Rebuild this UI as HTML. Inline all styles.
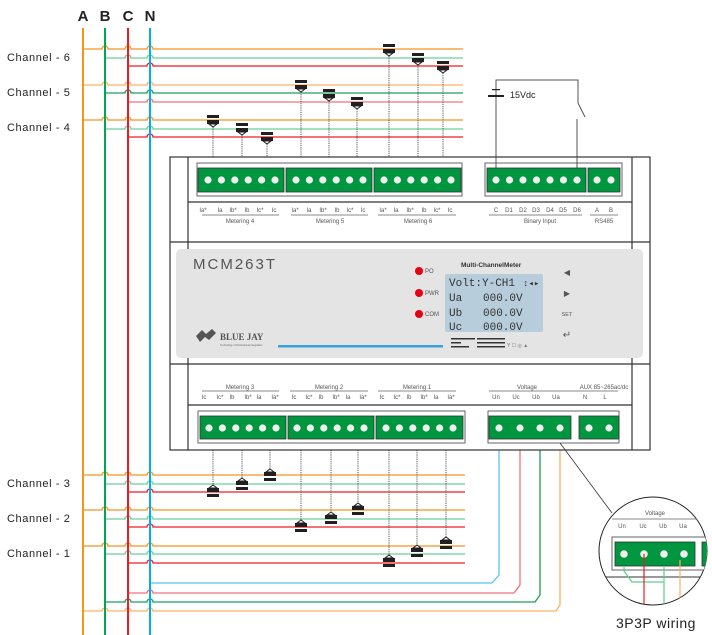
<!DOCTYPE html>
<html><head><meta charset="utf-8"><style>
html,body{margin:0;padding:0;background:#fff;}
svg{display:block;font-family:"Liberation Sans",sans-serif;}
.t{font-size:6px;fill:#555;}
.ch{font-size:11px;fill:#222;letter-spacing:0.6px;}
</style></head><body>
<svg width="712" height="635" viewBox="0 0 712 635" xmlns="http://www.w3.org/2000/svg">
<defs>
<g id="sd"><rect x="-6" y="0" width="12" height="3" fill="#231f20"/><rect x="-6" y="5" width="12" height="4" fill="#231f20"/><path d="M-4 9 L4 9 L0 12 Z" fill="#fff" stroke="#231f20" stroke-width="1"/></g>
<g id="su"><path d="M-4 3 L4 3 L0 0 Z" fill="#fff" stroke="#231f20" stroke-width="1"/><rect x="-6" y="3" width="12" height="4" fill="#231f20"/><rect x="-6" y="9" width="12" height="3" fill="#231f20"/></g>
<g id="c6"><circle cx="0" cy="0" r="3.6" fill="#eee"/><circle cx="13.4" cy="0" r="3.6" fill="#eee"/><circle cx="26.8" cy="0" r="3.6" fill="#eee"/><circle cx="40.2" cy="0" r="3.6" fill="#eee"/><circle cx="53.6" cy="0" r="3.6" fill="#eee"/><circle cx="67" cy="0" r="3.6" fill="#eee"/></g>
</defs>

<g font-size="15" font-weight="bold" fill="#222" text-anchor="middle">
<text x="83" y="21">A</text><text x="105" y="21">B</text><text x="128" y="21">C</text><text x="150" y="21">N</text>
</g>

<text class="ch" x="7" y="61">Channel - 6</text>
<text class="ch" x="7" y="96">Channel - 5</text>
<text class="ch" x="7" y="131">Channel - 4</text>
<text class="ch" x="7" y="487">Channel - 3</text>
<text class="ch" x="7" y="522">Channel - 2</text>
<text class="ch" x="7" y="557">Channel - 1</text>

<g fill="none" stroke-width="1.3">
<path d="M83 49H102a3 3 0 0 1 6 0H125a3 3 0 0 1 6 0H147a3 3 0 0 1 6 0H463" stroke="#f7941d"/>
<path d="M105 58H125a3 3 0 0 1 6 0H147a3 3 0 0 1 6 0H463" stroke="#6ccf9a"/>
<path d="M128 66H147a3 3 0 0 1 6 0H463" stroke="#ed1c24"/>
<path d="M83 85H102a3 3 0 0 1 6 0H125a3 3 0 0 1 6 0H147a3 3 0 0 1 6 0H463" stroke="#fbb260"/>
<path d="M105 93H125a3 3 0 0 1 6 0H147a3 3 0 0 1 6 0H463" stroke="#1aa05a"/>
<path d="M128 102H147a3 3 0 0 1 6 0H463" stroke="#f0707a"/>
<path d="M83 120H102a3 3 0 0 1 6 0H125a3 3 0 0 1 6 0H147a3 3 0 0 1 6 0H463" stroke="#f7941d"/>
<path d="M105 129H125a3 3 0 0 1 6 0H147a3 3 0 0 1 6 0H463" stroke="#6ccf9a"/>
<path d="M128 137H147a3 3 0 0 1 6 0H463" stroke="#ed1c24"/>
<path d="M83 475H102a3 3 0 0 1 6 0H125a3 3 0 0 1 6 0H147a3 3 0 0 1 6 0H465" stroke="#f7941d"/>
<path d="M105 484H125a3 3 0 0 1 6 0H147a3 3 0 0 1 6 0H465" stroke="#6ccf9a"/>
<path d="M128 492H147a3 3 0 0 1 6 0H465" stroke="#ed1c24"/>
<path d="M83 510H102a3 3 0 0 1 6 0H125a3 3 0 0 1 6 0H147a3 3 0 0 1 6 0H465" stroke="#f7941d"/>
<path d="M105 519H125a3 3 0 0 1 6 0H147a3 3 0 0 1 6 0H465" stroke="#6ccf9a"/>
<path d="M128 527H147a3 3 0 0 1 6 0H465" stroke="#ed1c24"/>
<path d="M83 546H102a3 3 0 0 1 6 0H125a3 3 0 0 1 6 0H147a3 3 0 0 1 6 0H465" stroke="#f7941d"/>
<path d="M105 554H125a3 3 0 0 1 6 0H147a3 3 0 0 1 6 0H465" stroke="#6ccf9a"/>
<path d="M128 563H147a3 3 0 0 1 6 0H465" stroke="#ed1c24"/>
<path d="M150 583H492L499 575V439" stroke="#5bc3f0"/>
<path d="M128 593H147a3 3 0 0 1 6 0H514L520 585V439" stroke="#f0707a"/>
<path d="M105 602H125a3 3 0 0 1 6 0H147a3 3 0 0 1 6 0H535L540 595V439" stroke="#1aa05a"/>
<path d="M83 611H102a3 3 0 0 1 6 0H125a3 3 0 0 1 6 0H147a3 3 0 0 1 6 0H556L560 605V439" stroke="#fbb260"/>
</g>
<line x1="83" y1="28" x2="83" y2="635" stroke="#f7941d" stroke-width="2"/>
<line x1="105" y1="28" x2="105" y2="635" stroke="#00a651" stroke-width="2"/>
<line x1="128" y1="28" x2="128" y2="635" stroke="#ed1c24" stroke-width="2"/>
<line x1="150" y1="28" x2="150" y2="635" stroke="#00aeef" stroke-width="2"/>

<g stroke="#555" stroke-width="1" stroke-dasharray="1.2 1">
<line x1="389" y1="56" x2="389" y2="168"/><line x1="418" y1="65" x2="418" y2="168"/><line x1="443" y1="73" x2="443" y2="168"/>
<line x1="301" y1="92" x2="301" y2="168"/><line x1="329" y1="101" x2="329" y2="168"/><line x1="357" y1="109" x2="357" y2="168"/>
<line x1="213" y1="127" x2="213" y2="168"/><line x1="242" y1="135" x2="242" y2="168"/><line x1="267" y1="144" x2="267" y2="168"/>
<line x1="213" y1="439" x2="213" y2="485"/><line x1="242" y1="439" x2="242" y2="478"/><line x1="270" y1="439" x2="270" y2="469"/>
<line x1="301" y1="439" x2="301" y2="520"/><line x1="331" y1="439" x2="331" y2="512"/><line x1="358" y1="439" x2="358" y2="503"/>
<line x1="389" y1="439" x2="389" y2="555"/><line x1="417" y1="439" x2="417" y2="545"/><line x1="446" y1="439" x2="446" y2="537"/>
</g>
<use href="#sd" x="389" y="44"/><use href="#sd" x="418" y="53"/><use href="#sd" x="443" y="61"/>
<use href="#sd" x="301" y="80"/><use href="#sd" x="329" y="89"/><use href="#sd" x="357" y="97"/>
<use href="#sd" x="213" y="115"/><use href="#sd" x="242" y="123"/><use href="#sd" x="267" y="132"/>
<use href="#su" x="213" y="485"/><use href="#su" x="242" y="478"/><use href="#su" x="270" y="469"/>
<use href="#su" x="301" y="520"/><use href="#su" x="331" y="512"/><use href="#su" x="358" y="503"/>
<use href="#su" x="389" y="555"/><use href="#su" x="417" y="545"/><use href="#su" x="446" y="537"/>

<g stroke="#555" stroke-width="1" fill="none">
<path d="M496 168V80H578V103L585 117"/>
<path d="M577 119V168"/>
</g>
<rect x="488" y="95" width="16" height="2" fill="#222"/>
<rect x="492" y="89" width="8" height="1.2" fill="#222"/>
<text x="510" y="98" font-size="9" fill="#222">15Vdc</text>

<g stroke="#333" stroke-width="1.2" fill="none">
<rect x="170" y="157" width="480" height="293" fill="#fff"/>
<line x1="188" y1="157" x2="188" y2="450"/>
<line x1="632" y1="157" x2="632" y2="450"/>
<line x1="170" y1="242" x2="650" y2="242"/>
<line x1="170" y1="364" x2="650" y2="364"/>
<line x1="188" y1="202" x2="632" y2="202"/>
<line x1="188" y1="405" x2="632" y2="405"/>
</g>
<g stroke="#666" stroke-width="1" fill="#fff">
<rect x="197" y="163" width="265" height="33"/>
<rect x="485" y="163" width="137" height="33"/>
<rect x="198" y="411" width="267" height="32"/>
<rect x="488" y="411" width="131" height="32"/>
</g>
<line x1="496" y1="157" x2="496" y2="168" stroke="#555"/><line x1="577" y1="157" x2="577" y2="168" stroke="#555"/>
<g fill="#00963f" stroke="#333" stroke-width="0.8">
<rect x="198" y="168" width="86" height="24"/><rect x="286" y="168" width="86" height="24"/><rect x="374" y="168" width="87" height="24"/>
<rect x="487" y="168" width="99" height="24"/><rect x="588" y="168" width="32" height="24"/>
<rect x="200" y="416" width="86" height="23"/><rect x="288" y="416" width="86" height="23"/><rect x="376" y="416" width="87" height="23"/>
<rect x="489" y="416" width="82" height="23"/><rect x="579" y="416" width="40" height="23"/>
</g>
<g fill="#eee">
<use href="#c6" x="208" y="180"/><use href="#c6" x="296" y="180"/><use href="#c6" x="384" y="180"/>
<use href="#c6" x="209" y="428"/><use href="#c6" x="297" y="428"/><use href="#c6" x="386" y="428"/>
<circle cx="496" cy="180" r="3.6"/><circle cx="509.5" cy="180" r="3.6"/><circle cx="523" cy="180" r="3.6"/><circle cx="536.5" cy="180" r="3.6"/><circle cx="550" cy="180" r="3.6"/><circle cx="563.5" cy="180" r="3.6"/><circle cx="577" cy="180" r="3.6"/>
<circle cx="597" cy="180" r="3.6"/><circle cx="611" cy="180" r="3.6"/>
<circle cx="499" cy="428" r="3.6"/><circle cx="520" cy="428" r="3.6"/><circle cx="540" cy="428" r="3.6"/><circle cx="560" cy="428" r="3.6"/>
<circle cx="589" cy="428" r="3.6"/><circle cx="609" cy="428" r="3.6"/>
</g>

<g class="t" text-anchor="middle">
<text x="203" y="212">Ia*</text><text x="220" y="212">Ia</text><text x="233" y="212">Ib*</text><text x="247" y="212">Ib</text><text x="260" y="212">Ic*</text><text x="274" y="212">Ic</text>
<text x="295" y="212">Ia*</text><text x="309" y="212">Ia</text><text x="323" y="212">Ib*</text><text x="337" y="212">Ib</text><text x="350" y="212">Ic*</text><text x="363" y="212">Ic</text>
<text x="383" y="212">Ia*</text><text x="396" y="212">Ia</text><text x="410" y="212">Ib*</text><text x="424" y="212">Ib</text><text x="437" y="212">Ic*</text><text x="450" y="212">Ic</text>
<text x="496" y="212">C</text><text x="509" y="212">D1</text><text x="523" y="212">D2</text><text x="536" y="212">D3</text><text x="550" y="212">D4</text><text x="563" y="212">D5</text><text x="577" y="212">D6</text>
<text x="597" y="212">A</text><text x="611" y="212">B</text>
<text x="240" y="223">Metering 4</text><text x="330" y="223">Metering 5</text><text x="418" y="223">Metering 6</text>
<text x="540" y="223">Binary Input</text><text x="604" y="223">RS485</text>
<text x="240" y="389">Metering 3</text><text x="329" y="389">Metering 2</text><text x="417" y="389">Metering 1</text>
<text x="527" y="389">Voltage</text><text x="604" y="389">AUX 85~265ac/dc</text>
<text x="204" y="399">Ic</text><text x="220" y="399">Ic*</text><text x="232" y="399">Ib</text><text x="248" y="399">Ib*</text><text x="259" y="399">Ia</text><text x="275" y="399">Ia*</text>
<text x="294" y="399">Ic</text><text x="309" y="399">Ic*</text><text x="321" y="399">Ib</text><text x="336" y="399">Ib*</text><text x="348" y="399">Ia</text><text x="363" y="399">Ia*</text>
<text x="382" y="399">Ic</text><text x="397" y="399">Ic*</text><text x="409" y="399">Ib</text><text x="424" y="399">Ib*</text><text x="436" y="399">Ia</text><text x="451" y="399">Ia*</text>
<text x="496" y="399">Un</text><text x="516" y="399">Uc</text><text x="536" y="399">Ub</text><text x="556" y="399">Ua</text><text x="585" y="399">N</text><text x="605" y="399">L</text>
</g>
<g stroke="#888" stroke-width="1">
<line x1="202" y1="215" x2="279" y2="215"/><line x1="291" y1="215" x2="368" y2="215"/><line x1="378" y1="215" x2="456" y2="215"/>
<line x1="489" y1="215" x2="582" y2="215"/><line x1="590" y1="215" x2="618" y2="215"/>
<line x1="202" y1="391" x2="279" y2="391"/><line x1="290" y1="391" x2="368" y2="391"/><line x1="378" y1="391" x2="456" y2="391"/>
<line x1="489" y1="391" x2="582" y2="391"/><line x1="580" y1="391" x2="618" y2="391"/>
</g>

<rect x="176" y="249" width="467" height="109" rx="5" fill="#e4e4e4"/>
<text x="193" y="269" font-size="15" fill="#555" letter-spacing="2">MCM263T</text>
<circle cx="419" cy="271" r="4" fill="#e60012"/><circle cx="419" cy="293" r="4" fill="#e60012"/><circle cx="419" cy="314" r="4" fill="#e60012"/>
<g class="t"><text x="425" y="273">PO</text><text x="425" y="295">PWR</text><text x="425" y="316">COM</text></g>
<text x="461" y="267" font-size="6.5" font-weight="bold" fill="#333">Multi-ChannelMeter</text>
<rect x="445" y="274" width="98" height="58" rx="2" fill="#b7cddb"/>
<g font-family="'Liberation Mono',monospace" font-size="11" fill="#333">
<text x="449" y="286">Volt:Y-CH1</text><text x="523" y="286" font-size="9">↕◂▸</text>
<text x="449" y="301">Ua</text><text x="483" y="301">000.0V</text>
<text x="449" y="316">Ub</text><text x="483" y="316">000.0V</text>
<text x="449" y="330">Uc</text><text x="483" y="330">000.0V</text>
</g>
<g fill="#555" font-size="8" text-anchor="middle">
<text x="567" y="275">◀</text><text x="567" y="296">▶</text><text x="567" y="316" font-size="5.5">SET</text><text x="567" y="338" font-size="10">↵</text>
</g>
<g fill="#333">
<rect x="451" y="338" width="24" height="1.5"/><rect x="451" y="342" width="10" height="1.5"/><rect x="451" y="346" width="18" height="1.5"/>
<rect x="477" y="338" width="28" height="1.5"/><rect x="477" y="342" width="28" height="1.5"/><rect x="477" y="346" width="28" height="1.5"/>
</g>
<text x="507" y="347" font-size="5" fill="#777">Y ☐ ◎ ▲</text>
<path d="M196 336 L202 330 L206 334 L212 329 L216 333 L209 340 L205 337 L200 342 Z" fill="#555"/>
<text x="220" y="340" font-family="'Liberation Serif',serif" font-size="9" font-weight="bold" fill="#555">BLUE JAY</text>
<text x="220" y="346" font-size="2.5" fill="#666">Technology of Professional Integration</text>
<rect x="278" y="345" width="165" height="2.5" fill="#3ba1dc"/>

<line x1="560" y1="443" x2="612" y2="513" stroke="#333" stroke-width="0.8"/>
<clipPath id="cc"><circle cx="653" cy="551" r="54"/></clipPath>
<circle cx="653" cy="551" r="54" fill="#fff" stroke="#222" stroke-width="1"/>
<g clip-path="url(#cc)">
<text x="655" y="515" class="t" text-anchor="middle">Voltage</text>
<line x1="612" y1="519" x2="710" y2="519" stroke="#888"/>
<g class="t" text-anchor="middle"><text x="622" y="528">Un</text><text x="643" y="528">Uc</text><text x="663" y="528">Ub</text><text x="683" y="528">Ua</text></g>
<rect x="612" y="537" width="110" height="33" fill="#fff" stroke="#666"/>
<rect x="615" y="542" width="80" height="24" fill="#00963f" stroke="#333" stroke-width="0.8"/>
<rect x="702" y="542" width="20" height="24" fill="#00963f" stroke="#333" stroke-width="0.8"/>
<g fill="#eee"><circle cx="624" cy="554" r="3.8"/><circle cx="644" cy="554" r="3.8"/><circle cx="664" cy="554" r="3.8"/><circle cx="684" cy="554" r="3.8"/></g>
<line x1="596" y1="577" x2="712" y2="577" stroke="#333"/>
<path d="M624 566V571L632 582H664M664 566V610" stroke="#5ccf8a" fill="none" stroke-width="1.2"/>
<line x1="644" y1="554" x2="644" y2="610" stroke="#ed1c24" stroke-width="1.2"/>
<line x1="680" y1="560" x2="680" y2="600" stroke="#fbb260" stroke-width="1.2"/>
</g>
<text x="616" y="628" font-size="14" fill="#222" letter-spacing="0.5">3P3P wiring</text>
</svg>
</body></html>
